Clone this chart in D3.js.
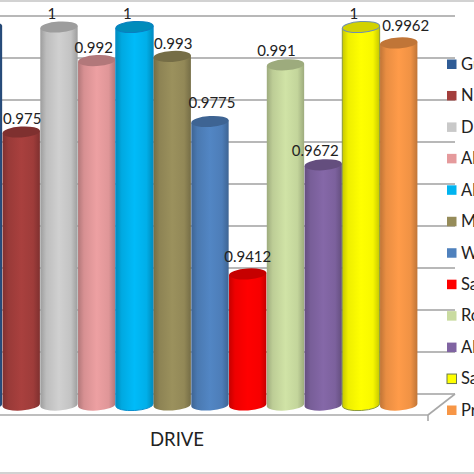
<!DOCTYPE html>
<html><head><meta charset="utf-8">
<script src="https://cdnjs.cloudflare.com/ajax/libs/d3/7.8.5/d3.min.js"></script>
<style>html,body{margin:0;padding:0;background:#fff;overflow:hidden}svg{display:block}</style>
</head><body><svg id="c" width="474" height="474"></svg>
<script>
const legendLabels = ["Gu","N","Di","Al","Al","M","W","Sa","Ro","Al","Sa","Pr"];
const values = [1,0.975,1,0.992,1,0.993,0.9775,0.9412,0.991,0.9672,1,0.9962];
const valueLabels = ["1","0.975","1","0.992","1","0.993","0.9775","0.9412","0.991","0.9672","1","0.9962"];
const colors = ["#2f5c96","#a33e3c","#c9c9c9","#e59a9c","#00b4f0","#968c5a","#4f81bd","#fe0000","#c9dba0","#8064a2","#ffff00","#f79646"];
const gridValues = [1,0.99,0.98,0.97,0.96,0.95,0.94,0.93,0.92,0.91];
const categoryLabel = "DRIVE";
// layout nudges for the data labels (dx, dy from the bar top)
const labelDx = [0,1,-7,-3,-7,1,2,0,-9,-8,-7,7];
const labelDy = [-13,-13,-13,-13,-13,-13,-19,-17,-14,-14,-13,-17];

const svg = d3.select("#c");
const defs = svg.append("defs");
const W=474,H=474;
svg.append("rect").attr("width",W).attr("height",H).attr("fill","#fff");

const x = d3.scaleBand().domain(d3.range(values.length)).range([-35.4,417.6]).paddingInner(0);
const y = d3.scaleLinear().domain([0.91,1]).range([405,27]);
const depth = 11, rx = x.bandwidth()/2 - 0.2, ry = 5.5, tilt = -3.5;

// frame bands
svg.append("rect").attr("x",0).attr("y",0).attr("width",W).attr("height",2).attr("fill","#d2d2d2");
svg.append("rect").attr("x",0).attr("y",472).attr("width",W).attr("height",2).attr("fill","#d2d2d2");

// back grid
svg.append("g").selectAll("line").data(gridValues).join("line")
  .attr("x1",0).attr("x2",455)
  .attr("y1",d=>y(d)-depth).attr("y2",d=>y(d)-depth)
  .attr("stroke","#a0a0a0").attr("stroke-width",1.4);

// floor
const floorG = svg.append("g").attr("fill","none").attr("stroke","#a8a8a8").attr("stroke-width",1.6);
floorG.append("line").attr("x1",0).attr("x2",428).attr("y1",415).attr("y2",415);
floorG.append("line").attr("x1",428).attr("x2",455).attr("y1",415).attr("y2",y(0.91)-depth);
floorG.append("line").attr("x1",428).attr("x2",428).attr("y1",415).attr("y2",421);

// gradients
colors.forEach((c,i)=>{
  const base=d3.color(c), g=defs.append("linearGradient").attr("id","g"+i);
  const stops=[[0,base.darker(0.7)],[0.16,base.darker(0.18)],[0.5,base.brighter(0.1)],[0.82,base.darker(0.08)],[1,base.darker(0.7)]];
  stops.forEach(s=>g.append("stop").attr("offset",s[0]).attr("stop-color",s[1].formatHex()));
});

// cylinders
const bars = svg.append("g").selectAll("g").data(values).join("g");
const y0 = y.range()[0];
const dyTilt = rx*Math.tan(-tilt*Math.PI/180);
bars.append("path")
  .attr("d",(d,i)=>{
    const l=x(i)+0.2, r=l+2*rx, t=y(d);
    return `M${l},${t+dyTilt}L${r},${t-dyTilt}L${r},${y0-dyTilt}A${rx},${ry} ${tilt} 0 1 ${l},${y0+dyTilt}Z`;
  })
  .attr("fill",(d,i)=>`url(#g${i})`)
  .attr("stroke",(d,i)=>i===10?"#8b9a3c":i===4?"#0a90d0":"none")
  .attr("stroke-width",1);
bars.append("ellipse")
  .attr("cx",(d,i)=>x(i)+x.bandwidth()/2)
  .attr("cy",d=>y(d))
  .attr("rx",rx).attr("ry",ry)
  .attr("transform",(d,i)=>`rotate(${tilt} ${x(i)+x.bandwidth()/2} ${y(d)})`)
  .attr("fill",(d,i)=>d3.color(colors[i]).darker(i===10?0.55:0.7).formatHex())
  .attr("stroke",(d,i)=>i===10?"#6f8fb0":i===4?"#0a7fc0":"none")
  .attr("stroke-width",1);

// data labels
svg.append("g").selectAll("text").data(values).join("text")
  .attr("x",(d,i)=>x(i)+x.bandwidth()/2+labelDx[i])
  .attr("y",(d,i)=>y(d)+labelDy[i])
  .attr("dy","0.35em")
  .attr("text-anchor","middle")
  .attr("font-family","Lato, 'Open Sans', sans-serif")
  .attr("font-size",15)
  .attr("fill","#222")
  .text((d,i)=>valueLabels[i]);

// category label
svg.append("text").attr("x",177).attr("y",440).attr("dy","0.35em").attr("text-anchor","middle")
  .attr("font-family","Lato, 'Open Sans', sans-serif").attr("font-size",18.5).attr("fill","#222").text(categoryLabel);

// legend
const ly = d3.scalePoint().domain(d3.range(legendLabels.length)).range([64,410]);
const leg = svg.append("g").selectAll("g").data(legendLabels).join("g")
  .attr("transform",(d,i)=>`translate(447,${ly(i)})`);
leg.append("rect").attr("x",0).attr("y",-4.5).attr("width",9.5).attr("height",9.5)
  .attr("fill",(d,i)=>colors[i])
  .attr("stroke",(d,i)=>i===10?"#6b7a50":"none").attr("stroke-width",1);
leg.append("text").attr("x",14).attr("dy","0.35em")
  .attr("font-family","Lato, 'Open Sans', sans-serif").attr("font-size",16.5).attr("fill","#222").text(d=>d);
</script></body></html>
